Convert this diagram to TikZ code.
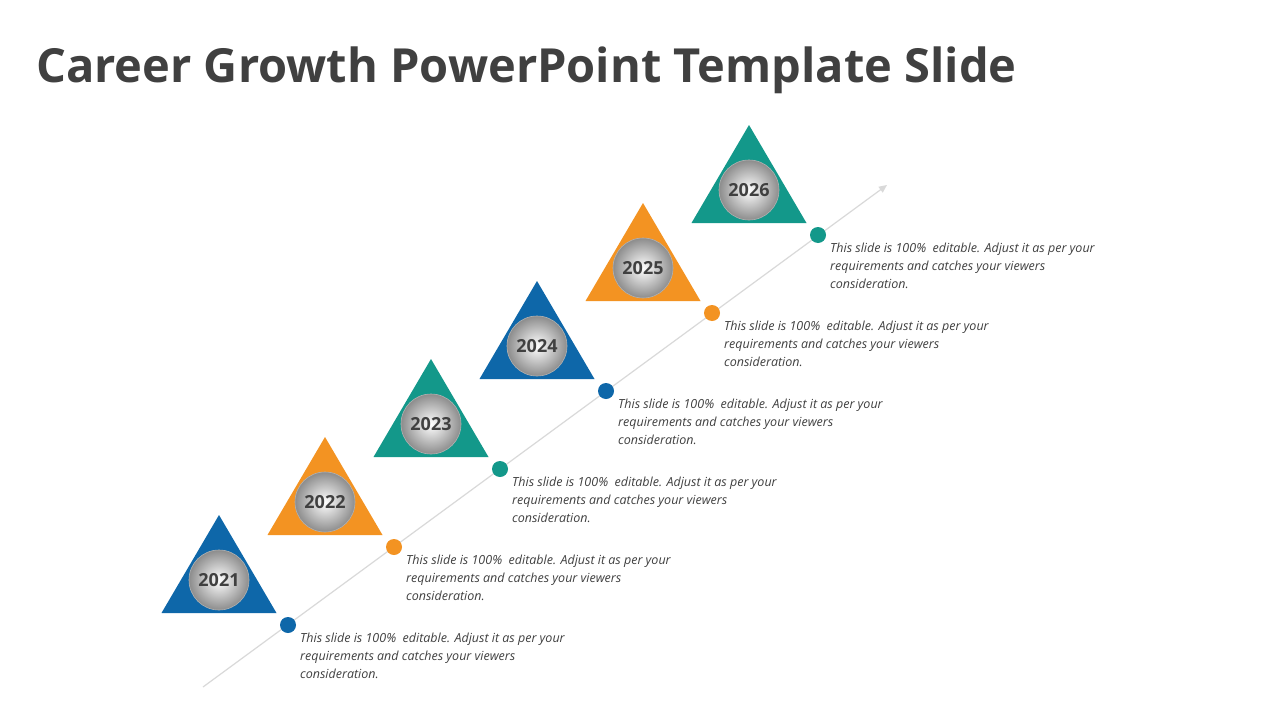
\documentclass[tikz,border=0pt]{standalone}
\usepackage{fontspec}
\setmainfont{Open Sans}
\usetikzlibrary{arrows.meta}
\definecolor{cblue}{HTML}{0E67A9}
\definecolor{corange}{HTML}{F39322}
\definecolor{cteal}{HTML}{13988A}
\definecolor{ctitle}{HTML}{404040}
\begin{document}
\begin{tikzpicture}[x=1pt,y=-1pt,
  tri/.style={fill=#1,draw=none},
  yearc/.style={circle,minimum size=60pt,inner sep=0pt,inner color=white,outer color=black!45,draw=black!30,line width=0.6pt,font=\fontsize{18}{20}\selectfont\bfseries,text=ctitle},
  dotn/.style={circle,fill=#1,minimum size=16pt,inner sep=0pt},
  desc/.style={anchor=north west,align=left,font=\fontsize{12.5}{18}\selectfont\itshape,text=ctitle,inner sep=0pt}]
\useasboundingbox (0,0) rectangle (1280,720);
\fill[white] (0,0) rectangle (1280,720);
\node[anchor=base west,inner sep=0pt,font=\fontsize{47}{50}\selectfont\bfseries,text=ctitle] (title) at (36,82) {Career Growth PowerPoint Template Slide};
\coordinate (ls) at (203,687);
\coordinate (le) at (887,185);
\draw[black!15,line width=1.2pt,-{Triangle[length=8pt,width=7pt]}] (ls) -- (le);
\foreach \i/\yr/\c in {0/2021/cblue,1/2022/corange,2/2023/cteal,3/2024/cblue,4/2025/corange,5/2026/cteal}{
  \pgfmathsetmacro{\ax}{219+106*\i}
  \pgfmathsetmacro{\ay}{515-78*\i}
  \fill[\c] (\ax,\ay) -- (\ax+57.5,\ay+98) -- (\ax-57.5,\ay+98) -- cycle;
  \node[yearc] (y\i) at (\ax,\ay+65) {\yr};
  \node[dotn=\c] (d\i) at (\ax+69,\ay+110) {};
  \node[desc] (t\i) at (\ax+81,\ay+118) {This slide is 100\%\ \ editable. Adjust it as per your\\requirements and catches your viewers\\consideration.};
}
\end{tikzpicture}
\end{document}
